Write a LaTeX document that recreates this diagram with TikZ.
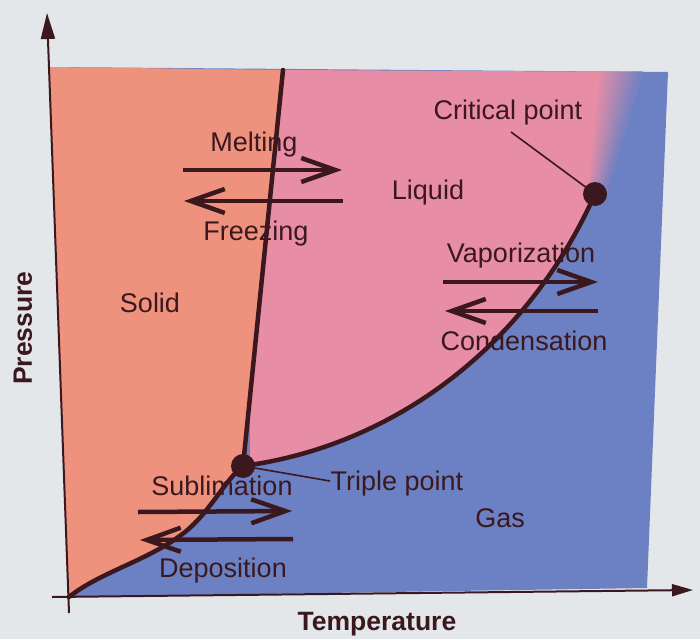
\documentclass[tikz,border=0pt]{standalone}
\usepackage{fontspec}
\setmainfont{Liberation Sans}
\usetikzlibrary{arrows.meta}
\definecolor{bgc}{HTML}{E3E7E9}
\definecolor{solidc}{HTML}{EE927E}
\definecolor{liqc}{HTML}{E78DA6}
\definecolor{gasc}{HTML}{6C81C3}
\definecolor{ink}{HTML}{3A181E}
\tikzset{
  lbl/.style={font=\fontsize{27}{30}\selectfont, text=ink, inner sep=0pt, anchor=base},
  axlbl/.style={font=\fontsize{26.5}{29}\selectfont\bfseries, text=ink, inner sep=0pt, anchor=base},
  phase/.style={draw=ink, line width=4.5pt, line cap=round},
  proc/.style={draw=ink, line width=4.5pt, -{Straight Barb[length=34pt,width=24pt]}},
  pin/.style={draw=ink, line width=1.6pt},
  dot/.style={circle, fill=ink, inner sep=0pt, minimum size=24pt},
  axis/.style={draw=ink, line width=2pt}
}
\begin{document}
\begin{tikzpicture}[x=1pt,y=-1pt]
\useasboundingbox (0,0) rectangle (700,639);
\fill[bgc] (0,0) rectangle (700,639);
% plot area (gas)
\fill[gasc] (49,67) -- (668,72) -- (647,588) -- (69,597) -- cycle;
% solid region
\fill[solidc] (49,67) -- (283,70) -- (243,466)
  .. controls (225,480) and (210,512) .. (185,532)
  .. controls (150,560) and (100,572) .. (69,597)
  -- cycle;
% liquid region, fading into the gas colour beyond the critical point
\begin{scope}
\clip (283,70) -- (668,72) -- (663,194) -- (595,194)
  .. controls (530,340) and (400,445) .. (243,466)
  -- cycle;
\fill[liqc] (250,60) -- (646,60) -- (604.2,200) -- (604.2,480) -- (250,480) -- cycle;
\foreach \i in {1,...,11}{
  \pgfmathsetmacro{\pc}{100-100*\i/12}
  \fill[liqc!\pc!gasc] (598+4*\i,60) -- (585+1.6*\i,200) -- (604.2,200) -- (646,60) -- cycle;
}
\end{scope}
% texts
\node[lbl] (melt) at (254,152) {Melting};
\node[lbl] (freeze) at (256,240) {Freezing};
\node[lbl] (liquid) at (428,199) {Liquid};
\node[lbl] (crit) at (508,120) {Critical point};
\node[lbl] (vap) at (521,262) {Vaporization};
\node[lbl] (cond) at (524,350) {Condensation};
\node[lbl] (solid) at (150,312) {Solid};
\node[lbl] (subl) at (222,495) {Sublimation};
\node[lbl] (depo) at (223,577) {Deposition};
\node[lbl] (triple) at (397,490) {Triple point};
\node[lbl] (gas) at (500,527) {Gas};
\node[axlbl, rotate=90, anchor=center] (pres) at (23,328) {Pressure};
\node[axlbl] (temp) at (377,630) {Temperature};
% phase boundaries
\draw[phase] (283,70) -- (243,466);
\draw[phase] (243,466) .. controls (400,445) and (530,340) .. (595,194);
\draw[phase] (69,597) .. controls (100,572) and (150,560) .. (185,532)
  .. controls (210,512) and (225,480) .. (243,466);
% process arrows
\draw[proc] (183,170) -- (342,170);
\draw[proc] (343,201) -- (184,201);
\draw[proc] (443,282) -- (598,282);
\draw[proc] (598,311) -- (445,311);
\draw[proc] (138,512) -- (292,511);
\draw[proc] (293,539) -- (140,540);
% points
\node[dot] (tp) at (243,466) {};
\node[dot] (cp) at (595,194) {};
\coordinate (critend) at (511,132);
\coordinate (tripend) at (330,481);
\draw[pin] (critend) -- (cp.center);
\draw[pin] (tp.center) -- (tripend);
% axes
\draw[axis, -{Triangle[length=26pt,width=14pt]}] (69,613) -- (47,13);
\draw[axis, -{Triangle[length=21pt,width=12pt]}] (52,597) -- (693,590);
\end{tikzpicture}
\end{document}
